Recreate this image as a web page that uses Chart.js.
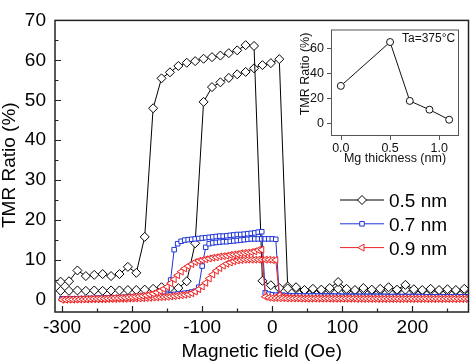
<!DOCTYPE html>
<html>
<head>
<meta charset="utf-8">
<script src="https://cdn.jsdelivr.net/npm/chart.js@4.4.1/dist/chart.umd.min.js"></script>
<style>
  html, body { margin: 0; padding: 0; background: #fff; }
  #wrap { position: relative; width: 474px; height: 361px; }
  #tmrChart { position: absolute; left: 0; top: 0; }
  #insetChart { position: absolute; left: 290px; top: 15px; }
</style>
</head>
<body>
<div id="wrap">
  <canvas id="tmrChart" width="474" height="361"></canvas>
  <canvas id="insetChart" width="180" height="160"></canvas>
</div>
<script>
// ---- data ----
var seriesLabels = ['0.5 nm', '0.7 nm', '0.9 nm'];
var xTicks = [-300, -200, -100, 0, 100, 200];
var yTicks = [0, 10, 20, 30, 40, 50, 60, 70];

// 0.5 nm (diamonds), field step ~12 Oe
var blackField = [-302, -290, -278, -266, -254, -242, -230, -218, -206, -194,
    -182, -170, -158, -146, -134, -122, -110, -98, -86, -74,
    -62, -50, -38, -26, -14, -2, 10, 22, 34, 46,
    58, 70, 82, 94, 106, 118, 130, 142, 154, 166,
    178, 190, 202, 214, 226, 238, 250, 262, 274];
// sweep + -> -
var blackDown = [4.6, 4.7, 7.4, 6.0, 6.3, 6.5, 6.0, 6.5, 8.3, 6.8,
    15.8, 48.0, 55.5, 57.0, 58.6, 59.4, 59.8, 60.4, 60.8, 61.2,
    61.8, 62.5, 63.8, 63.6, 4.8, 3.7, 3.0, 2.9, 3.2, 2.5,
    2.8, 2.6, 3.0, 4.5, 2.8, 2.5, 3.0, 2.6, 2.8, 3.2,
    2.6, 3.8, 2.7, 2.5, 2.8, 2.5, 2.7, 2.5, 2.8];
// sweep - -> +
var blackUp = [2.3, 2.3, 2.4, 2.3, 2.4, 2.3, 2.4, 2.4, 2.5, 2.5,
    2.6, 2.8, 3.2, 3.0, 3.0, 4.7, 14.2, 49.6, 53.3, 54.5,
    55.6, 56.5, 57.1, 58.0, 58.8, 59.3, 60.3, 3.4, 2.8, 2.3,
    2.6, 2.3, 2.5, 2.8, 2.3, 2.3, 2.5, 2.3, 2.4, 2.6,
    2.3, 2.6, 2.3, 2.3, 2.4, 2.3, 2.3, 2.3, 2.4];

// 0.7 nm and 0.9 nm, field step 5 Oe
var fineField = [-300, -295, -290, -285, -280, -275, -270, -265, -260, -255,
    -250, -245, -240, -235, -230, -225, -220, -215, -210, -205,
    -200, -195, -190, -185, -180, -175, -170, -165, -160, -155,
    -150, -145, -140, -135, -130, -125, -120, -115, -110, -105,
    -100, -95, -90, -85, -80, -75, -70, -65, -60, -55,
    -50, -45, -40, -35, -30, -25, -20, -15, -10, -5,
    0, 5, 10, 15, 20, 25, 30, 35, 40, 45,
    50, 55, 60, 65, 70, 75, 80, 85, 90, 95,
    100, 105, 110, 115, 120, 125, 130, 135, 140, 145,
    150, 155, 160, 165, 170, 175, 180, 185, 190, 195,
    200, 205, 210, 215, 220, 225, 230, 235, 240, 245,
    250, 255, 260, 265, 270, 275, 280];
var blueUp = [0.3, 0.3, 0.3, 0.3, 0.3, 0.3, 0.3, 0.35, 0.35, 0.35,
    0.4, 0.4, 0.4, 0.45, 0.45, 0.5, 0.5, 0.55, 0.6, 0.6,
    0.65, 0.7, 0.75, 0.8, 0.85, 0.9, 0.95, 1.0, 1.05, 1.1,
    1.2, 1.3, 1.4, 1.5, 1.6, 1.7, 1.8, 2.0, 2.2, 3.2,
    8.5, 13.2, 14.1, 14.3, 14.4, 14.5, 14.6, 14.6, 14.7, 14.8,
    14.9, 15.0, 15.1, 15.2, 15.3, 15.3, 15.3, 15.3, 15.3, 15.3,
    15.3, 15.2, 1.4, 1.2, 1.1, 1.1, 1.0, 1.0, 1.0, 1.0,
    1.0, 1.0, 1.0, 1.0, 0.95, 0.95, 0.95, 0.95, 0.95, 0.95,
    0.9, 0.9, 0.9, 0.9, 0.9, 0.9, 0.9, 0.9, 0.9, 0.9,
    0.9, 0.9, 0.9, 0.85, 0.85, 0.85, 0.85, 0.85, 0.85, 0.85,
    0.85, 0.85, 0.85, 0.85, 0.8, 0.8, 0.8, 0.8, 0.8, 0.8,
    0.8, 0.8, 0.8, 0.8, 0.8, 0.8, 0.8];
var blueDown = [0.3, 0.3, 0.3, 0.3, 0.3, 0.35, 0.35, 0.35, 0.4, 0.4,
    0.45, 0.45, 0.5, 0.5, 0.55, 0.55, 0.6, 0.65, 0.7, 0.75,
    0.8, 0.85, 0.9, 0.95, 1.0, 1.1, 1.25, 1.45, 1.7, 2.1,
    2.8, 5.0, 12.6, 14.1, 14.7, 15.0, 15.1, 15.2, 15.3, 15.4,
    15.5, 15.6, 15.7, 15.8, 15.9, 16.0, 16.0, 16.1, 16.2, 16.3,
    16.4, 16.4, 16.5, 16.6, 16.7, 16.8, 17.0, 17.1, 1.8, 1.5,
    1.3, 1.2, 1.1, 1.1, 1.0, 1.0, 1.0, 1.0, 1.0, 1.0,
    1.0, 1.0, 1.0, 1.0, 0.95, 0.95, 0.95, 0.95, 0.95, 0.95,
    0.9, 0.9, 0.9, 0.9, 0.9, 0.9, 0.9, 0.9, 0.9, 0.9,
    0.9, 0.9, 0.9, 0.85, 0.85, 0.85, 0.85, 0.85, 0.85, 0.85,
    0.85, 0.85, 0.85, 0.85, 0.8, 0.8, 0.8, 0.8, 0.8, 0.8,
    0.8, 0.8, 0.8, 0.8, 0.8, 0.8, 0.8];
var redUp = [0.1, 0.1, 0.1, 0.1, 0.1, 0.15, 0.15, 0.15, 0.15, 0.2,
    0.2, 0.2, 0.2, 0.25, 0.25, 0.25, 0.3, 0.3, 0.3, 0.35,
    0.35, 0.4, 0.4, 0.45, 0.5, 0.55, 0.6, 0.65, 0.7, 0.75,
    0.8, 0.9, 1.0, 1.1, 1.2, 1.3, 1.45, 1.7, 2.1, 2.7,
    3.4, 4.3, 5.4, 6.4, 7.3, 8.0, 8.6, 9.1, 9.4, 9.7,
    9.9, 10.0, 10.1, 10.1, 10.1, 10.1, 10.1, 10.1, 10.1, 10.1,
    10.0, 10.0, 1.2, 0.8, 0.6, 0.5, 0.5, 0.45, 0.45, 0.4,
    0.4, 0.4, 0.4, 0.4, 0.4, 0.4, 0.4, 0.35, 0.35, 0.35,
    0.35, 0.35, 0.35, 0.35, 0.35, 0.35, 0.35, 0.35, 0.35, 0.35,
    0.3, 0.3, 0.3, 0.3, 0.3, 0.3, 0.3, 0.3, 0.3, 0.3,
    0.3, 0.3, 0.3, 0.3, 0.3, 0.3, 0.3, 0.3, 0.3, 0.3,
    0.3, 0.3, 0.3, 0.3, 0.3, 0.3, 0.3];
var redDown = [0.1, 0.1, 0.15, 0.15, 0.2, 0.2, 0.2, 0.25, 0.25, 0.3,
    0.3, 0.35, 0.35, 0.4, 0.45, 0.5, 0.5, 0.55, 0.6, 0.7,
    0.75, 0.85, 0.95, 1.05, 1.2, 1.4, 1.6, 1.9, 2.3, 2.8,
    3.3, 4.2, 5.2, 6.2, 7.1, 7.9, 8.5, 9.0, 9.5, 9.8,
    10.0, 10.2, 10.4, 10.6, 10.7, 10.9, 11.0, 11.1, 11.3, 11.4,
    11.5, 11.7, 11.8, 11.9, 12.0, 12.2, 12.5, 12.6, 0.8, 0.6,
    0.5, 0.5, 0.45, 0.45, 0.4, 0.4, 0.4, 0.4, 0.35, 0.35,
    0.35, 0.35, 0.35, 0.35, 0.35, 0.35, 0.35, 0.35, 0.35, 0.35,
    0.35, 0.35, 0.35, 0.35, 0.3, 0.3, 0.3, 0.3, 0.3, 0.3,
    0.3, 0.3, 0.3, 0.3, 0.3, 0.3, 0.3, 0.3, 0.3, 0.3,
    0.3, 0.3, 0.3, 0.3, 0.3, 0.3, 0.3, 0.3, 0.3, 0.3,
    0.3, 0.3, 0.3, 0.3, 0.3, 0.3, 0.3];

// inset
var mgThickness = [0.0, 0.5, 0.7, 0.9, 1.1];
var tmrPeak = [30, 65, 18, 11, 3];
var insetXTicks = [0.0, 0.5, 1.0];
var insetYTicks = [0, 20, 40, 60];
var insetNote = 'Ta=375\u00B0C';

// ---- styling ----
var FONT = "'Liberation Sans', Arial, sans-serif";
var BLACK = '#000000';
var BLUE = '#1f35d6';
var RED = '#ee2222';

function pts(xs, ys) {
    return xs.map(function (x, i) { return { x: x, y: ys[i] }; });
}

function lineSet(data, color, style, radius, rotation, order) {
    return {
        data: data,
        showLine: true,
        borderColor: color,
        borderWidth: 1,
        pointStyle: style,
        pointRadius: radius,
        pointRotation: rotation,
        pointBackgroundColor: '#ffffff',
        pointBorderColor: color,
        pointBorderWidth: 1,
        pointHoverRadius: radius,
        tension: 0,
        order: order
    };
}

var markers = [
    { color: BLACK, style: 'rectRot', radius: 4.5, rotation: 0 },
    { color: BLUE, style: 'rect', radius: 3.2, rotation: 0 },
    { color: RED, style: 'triangle', radius: 4, rotation: -90 }
];

// frame, inward ticks and axis titles
var mainDecor = {
    id: 'mainDecor',
    afterDatasetsDraw: function (chart) {
        var ctx = chart.ctx, a = chart.chartArea;
        var sx = chart.scales.x, sy = chart.scales.y;
        ctx.save();
        ctx.strokeStyle = '#222';
        ctx.lineWidth = 1.5;
        ctx.strokeRect(a.left, a.top, a.right - a.left, a.bottom - a.top);
        ctx.lineWidth = 1.2;
        ctx.beginPath();
        for (var v = -300; v <= 250; v += 50) {
            var px = Math.round(sx.getPixelForValue(v)) + 0.5;
            var len = (v % 100 === 0) ? 6 : 3.5;
            ctx.moveTo(px, a.bottom);
            ctx.lineTo(px, a.bottom - len);
        }
        for (var w = 5; w < 70; w += 5) {
            var py = Math.round(sy.getPixelForValue(w)) + 0.5;
            var l2 = (w % 10 === 0) ? 6 : 3.5;
            ctx.moveTo(a.left, py);
            ctx.lineTo(a.left + l2, py);
        }
        ctx.stroke();

        ctx.fillStyle = '#000';
        ctx.font = '19px ' + FONT;
        ctx.textAlign = 'center';
        ctx.textBaseline = 'alphabetic';
        ctx.fillText('Magnetic field (Oe)', (a.left + a.right) / 2, 357);
        ctx.translate(15, (a.top + a.bottom) / 2 - 1);
        ctx.rotate(-Math.PI / 2);
        ctx.fillText('TMR Ratio (%)', 0, 0);
        ctx.restore();
    }
};

// legend drawn inside the plot
var mainLegend = {
    id: 'mainLegend',
    afterDraw: function (chart) {
        var ctx = chart.ctx;
        ctx.save();
        seriesLabels.forEach(function (label, i) {
            var m = markers[i];
            var y = 200 + i * 23.8;
            ctx.strokeStyle = m.color;
            ctx.lineWidth = 1;
            ctx.beginPath();
            ctx.moveTo(340, y);
            ctx.lineTo(384, y);
            ctx.stroke();
            ctx.fillStyle = '#fff';
            Chart.helpers.drawPoint(ctx, {
                pointStyle: m.style, radius: m.radius, rotation: m.rotation, borderWidth: 1
            }, 362, y);
            ctx.fillStyle = '#000';
            ctx.font = '19px ' + FONT;
            ctx.textAlign = 'left';
            ctx.textBaseline = 'alphabetic';
            ctx.fillText(label, 389, y + 7);
        });
        ctx.restore();
    }
};

var ctx = document.getElementById('tmrChart').getContext('2d');
var tmrChart = new Chart(ctx, {
    type: 'scatter',
    data: {
        datasets: [
            lineSet(pts(blackField, blackDown), BLACK, 'rectRot', 4.5, 0, 3),
            lineSet(pts(blackField, blackUp), BLACK, 'rectRot', 4.5, 0, 3),
            lineSet(pts(fineField, blueDown), BLUE, 'rect', 3.2, 0, 2),
            lineSet(pts(fineField, blueUp), BLUE, 'rect', 3.2, 0, 2),
            lineSet(pts(fineField, redDown), RED, 'triangle', 4, -90, 1),
            lineSet(pts(fineField, redUp), RED, 'triangle', 4, -90, 1)
        ]
    },
    options: {
        responsive: false,
        animation: false,
        layout: { padding: { top: 7, right: 2, left: 0, bottom: 0 } },
        plugins: { legend: { display: false }, tooltip: { enabled: false } },
        scales: {
            x: {
                type: 'linear',
                min: -310,
                max: 280,
                afterBuildTicks: function (s) { s.ticks = xTicks.map(function (v) { return { value: v }; }); },
                afterFit: function (s) { s.height = 49; },
                grid: { display: false, drawTicks: false },
                border: { display: false },
                ticks: { color: '#000', font: { family: FONT, size: 19 }, padding: 4, maxRotation: 0 }
            },
            y: {
                type: 'linear',
                min: -3,
                max: 70,
                afterBuildTicks: function (s) { s.ticks = yTicks.map(function (v) { return { value: v }; }); },
                afterFit: function (s) { s.width = 55; },
                grid: { display: false, drawTicks: false },
                border: { display: false },
                ticks: { color: '#000', font: { family: FONT, size: 19 }, padding: 9 }
            }
        }
    },
    plugins: [mainDecor, mainLegend]
});

// ---- inset ----
var insetDecor = {
    id: 'insetDecor',
    afterDatasetsDraw: function (chart) {
        var c = chart.ctx, a = chart.chartArea;
        var sx = chart.scales.x, sy = chart.scales.y;
        c.save();
        c.strokeStyle = '#555';
        c.lineWidth = 1;
        c.strokeRect(a.left + 0.5, a.top + 0.5, a.right - a.left - 1, a.bottom - a.top - 1);
        c.beginPath();
        insetXTicks.forEach(function (v) {
            var px = Math.round(sx.getPixelForValue(v)) + 0.5;
            c.moveTo(px, a.bottom);
            c.lineTo(px, a.bottom + 4);
        });
        insetYTicks.forEach(function (v) {
            var py = Math.round(sy.getPixelForValue(v)) + 0.5;
            c.moveTo(a.left, py);
            c.lineTo(a.left - 4, py);
        });
        c.stroke();
        c.fillStyle = '#111';
        c.font = '12.5px ' + FONT;
        c.textAlign = 'center';
        c.textBaseline = 'alphabetic';
        c.fillText('Mg thickness (nm)', (a.left + a.right) / 2, 147);
        c.font = '12px ' + FONT;
        c.textAlign = 'left';
        c.fillText(insetNote, 112, 27);
        c.font = '12.5px ' + FONT;
        c.textAlign = 'center';
        c.translate(19, 59);
        c.rotate(-Math.PI / 2);
        c.fillText('TMR Ratio (%)', 0, 0);
        c.restore();
    }
};

var insetCtx = document.getElementById('insetChart').getContext('2d');
var insetChart = new Chart(insetCtx, {
    type: 'scatter',
    data: {
        datasets: [{
            data: pts(mgThickness, tmrPeak),
            showLine: true,
            borderColor: '#111',
            borderWidth: 1,
            pointStyle: 'circle',
            pointRadius: 3.5,
            pointBackgroundColor: '#ffffff',
            pointBorderColor: '#111',
            pointBorderWidth: 1,
            tension: 0
        }]
    },
    options: {
        responsive: false,
        animation: false,
        layout: { padding: { top: 11, right: 11, left: 0, bottom: 0 } },
        plugins: { legend: { display: false }, tooltip: { enabled: false } },
        scales: {
            x: {
                type: 'linear',
                min: -0.1,
                max: 1.2,
                afterBuildTicks: function (s) { s.ticks = insetXTicks.map(function (v) { return { value: v }; }); },
                afterFit: function (s) { s.height = 39; },
                grid: { display: false, drawTicks: false },
                border: { display: false },
                ticks: {
                    color: '#111', font: { family: FONT, size: 12.5 }, padding: 5, maxRotation: 0,
                    callback: function (v) { return Number(v).toFixed(1); }
                }
            },
            y: {
                type: 'linear',
                min: -10,
                max: 75,
                afterBuildTicks: function (s) { s.ticks = insetYTicks.map(function (v) { return { value: v }; }); },
                afterFit: function (s) { s.width = 41; },
                grid: { display: false, drawTicks: false },
                border: { display: false },
                ticks: { color: '#111', font: { family: FONT, size: 12.5 }, padding: 7 }
            }
        }
    },
    plugins: [insetDecor]
});
</script>
</body>
</html>
